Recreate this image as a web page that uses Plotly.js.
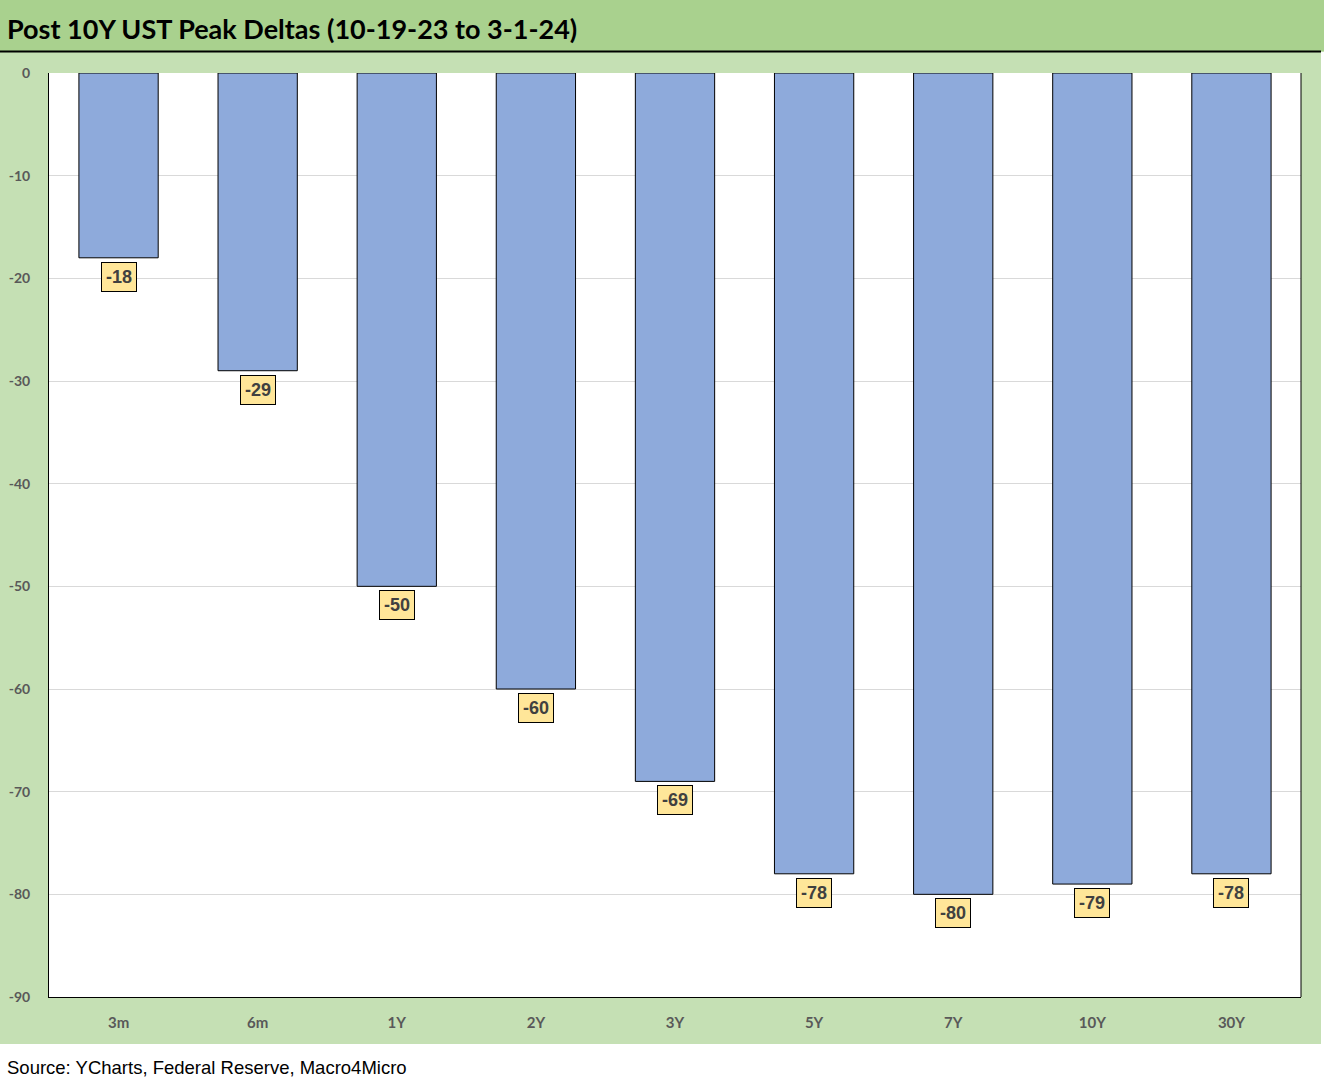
<!DOCTYPE html>
<html>
<head>
<meta charset="utf-8">
<script src="https://cdn.plot.ly/plotly-3.0.1.min.js"></script>
<style>html,body{margin:0;padding:0;background:#fff;}#chart{width:1324px;height:1084px;}</style>
</head>
<body>
<div id="chart"></div>
<script>
const categories = ["3m","6m","1Y","2Y","3Y","5Y","7Y","10Y","30Y"];
const deltas = [-18,-29,-50,-60,-69,-78,-80,-79,-78];
const yTicks = [0,-10,-20,-30,-40,-50,-60,-70,-80,-90];
const titleText = "Post 10Y UST Peak Deltas (10-19-23 to 3-1-24)";
const sourceText = "Source: YCharts, Federal Reserve, Macro4Micro";

const W = 1324, H = 1084;
const L = 49, R = 1301, T = 73, B = 997;
const pw = R - L, ph = B - T;
const px = v => (v - L) / pw;
const py = v => (B - v) / ph;

const annotations = categories.map((c, i) => ({
  x: c, y: deltas[i], xref: 'x', yref: 'y',
  text: String(deltas[i]), showarrow: false,
  yanchor: 'top', yshift: -4,
  bgcolor: '#ffe699', bordercolor: '#000', borderwidth: 1, borderpad: 4,
  font: {family: 'Liberation Sans, Arial, sans-serif', size: 18, color: '#404040', weight: 'bold'}
}));
annotations.push({
  xref: 'paper', yref: 'paper', x: px(5), y: py(28), xanchor: 'left', yanchor: 'middle',
  text: '<b>' + titleText + '</b>', showarrow: false,
  font: {family: 'Lato, Carlito, Calibri, sans-serif', size: 27, color: '#000'}
});
annotations.push({
  xref: 'paper', yref: 'paper', x: px(5), y: py(1067), xanchor: 'left', yanchor: 'middle',
  text: sourceText, showarrow: false,
  font: {family: 'Liberation Sans, Arial, sans-serif', size: 18.5, color: '#000'}
});

const shapes = [
  {type:'rect', xref:'paper', yref:'paper', x0:px(0), x1:px(W), y0:py(0), y1:py(51), fillcolor:'#a9d18e', line:{width:0}, layer:'below'},
  {type:'line', xref:'paper', yref:'paper', x0:px(0), x1:px(1321), y0:py(51.5), y1:py(51.5), line:{color:'#000', width:2}},
  {type:'rect', xref:'paper', yref:'paper', x0:px(0), x1:px(W), y0:py(1044), y1:py(H), fillcolor:'#ffffff', line:{width:0}, layer:'below'},
  {type:'rect', xref:'paper', yref:'paper', x0:px(1321), x1:px(W), y0:py(52), y1:py(1044), fillcolor:'#ffffff', line:{width:0}, layer:'below'},
  {type:'line', xref:'paper', yref:'paper', x0:1, x1:1, y0:0, y1:1, line:{color:'#000', width:1}}
];

const trace = {
  type: 'bar', x: categories, y: deltas,
  marker: {color: '#8eaadb', line: {color: '#000', width: 1}},
  width: 0.57, hoverinfo: 'skip'
};

const layout = {
  width: W, height: H,
  margin: {l: L, r: W - R, t: T, b: H - B, pad: 0},
  paper_bgcolor: '#c5e0b4', plot_bgcolor: '#ffffff',
  showlegend: false,
  xaxis: {
    type: 'category', showgrid: false, zeroline: false,
    showline: true, linecolor: '#000', linewidth: 1,
    ticks: '', ticklabelstandoff: 12,
    tickfont: {family: 'Lato, Carlito, Calibri, sans-serif', size: 15, color: '#595959', weight: 'bold'}
  },
  yaxis: {
    range: [-90, 0], tickvals: yTicks, ticktext: yTicks.map(String),
    showgrid: true, gridcolor: '#d9d9d9', gridwidth: 1, zeroline: false,
    showline: true, linecolor: '#000', linewidth: 1,
    ticks: '', ticklabelstandoff: 15,
    tickfont: {family: 'Lato, Carlito, Calibri, sans-serif', size: 14, color: '#595959', weight: 'bold'}
  },
  annotations: annotations,
  shapes: shapes
};

Plotly.newPlot('chart', [trace], layout, {displayModeBar: false, staticPlot: true});
</script>
</body>
</html>
